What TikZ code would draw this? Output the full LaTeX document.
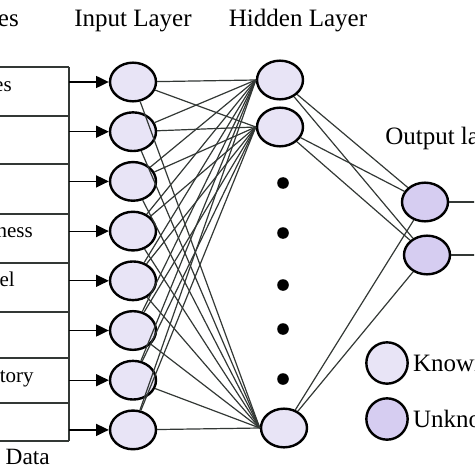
\documentclass[tikz,border=0pt]{standalone}
\usepackage{fontspec}
\setmainfont{Liberation Serif}
\usetikzlibrary{positioning,shapes.geometric,arrows.meta}
\definecolor{knownfill}{HTML}{E8E4F6}
\definecolor{unknownfill}{HTML}{D6CDF1}
\definecolor{wirecol}{HTML}{333835}
\tikzset{
	neuron/.style = {ellipse, draw=black, line width=1.8pt, fill=knownfill,
	 minimum width=34.5pt, minimum height=29pt, inner sep=0pt},
	outneuron/.style = {neuron, fill=unknownfill},
	keycircle/.style = {circle, draw=black, line width=1.8pt, minimum size=31pt, inner sep=0pt},
	wire/.style = {draw=wirecol, line width=0.9pt},
	panel/.style = {draw=wirecol, line width=0.9pt},
	feed/.style = {draw=black, line width=0.9pt, -{Triangle[length=9.5pt,width=9pt]}},
	title/.style = {font=\fontsize{18.75}{22}\selectfont, inner sep=0pt},
	rowlabel/.style = {font=\fontsize{15.75}{18}\selectfont, inner sep=0pt, anchor=base east},
	}

\begin{document}
\begin{tikzpicture}[x=0.75pt, y=-0.75pt, node distance=3pt]
\useasboundingbox (0,0) rectangle (474,474);
\clip (0,0) rectangle (474,474);

% NODES

% input panel
\foreach \y in {67,116,164,214,263,312,358,403,441}
  \draw [panel] (0,\y) -- (69,\y);
\draw [panel] (69,67) -- (69,441);
\node (rowa) [rowlabel] at (12,92) {es};
\node (rowd) [rowlabel] at (33,237) {ness};
\node (rowe) [rowlabel] at (15,286) {el};
\node (rowg) [rowlabel] at (34,382) {tory};
\node (datalabel) [rowlabel, font=\fontsize{17.5}{20}\selectfont] at (50,464) {Data};

% input layer
\foreach \i in {1,...,8} {
  \node (in\i) [neuron] at (133,{82+49.7*(\i-1)}) {};
  \coordinate (feed\i) at (69,{82+49.7*(\i-1)});
  }

% hidden layer
\node (hid1) [neuron] at (280,80) {};
\node (hid2) [neuron] at (280,127) {};
\node (hidn) [neuron] at (284,428) {};
\foreach \y in {183,233,285,329,379}
  \fill (283,\y) circle [radius=5.8];

% output layer
\node (out1) [outneuron] at (425,202) {};
\node (out2) [outneuron] at (427,255) {};
\coordinate (out1r) at (480,202);
\coordinate (out2r) at (480,255);

% legend
\node (known) [keycircle, fill=knownfill] at (387,363) {};
\node (unknown) [keycircle, fill=unknownfill] at (387,419) {};
\node (knownlabel) [title, right=3pt of known] {Known};
\node (unknownlabel) [title, right=3pt of unknown] {Unknown};

% titles
\node (paneltitle) [title, anchor=base east] at (19,27) {es};
\node (intitle) [title, anchor=base] at (133,27) {Input Layer};
\node (hidtitle) [title, anchor=base] at (298,27) {Hidden Layer};
\node (outtitle) [title, anchor=base west] at (385,145) {Output layer};


%CONNECTIONS
\foreach \i in {1,...,8} {
  \draw [feed] (feed\i) -- (in\i.west);
  \foreach \h in {hid1,hid2,hidn}
    \draw [wire] (in\i) -- (\h.west);
  }
\foreach \h in {hid1,hid2,hidn}
  \foreach \o in {out1,out2}
    \draw [wire] (\h) -- (\o);
\draw [wire] (out1) -- (out1r);
\draw [wire] (out2) -- (out2r);

\end{tikzpicture}
\end{document}
